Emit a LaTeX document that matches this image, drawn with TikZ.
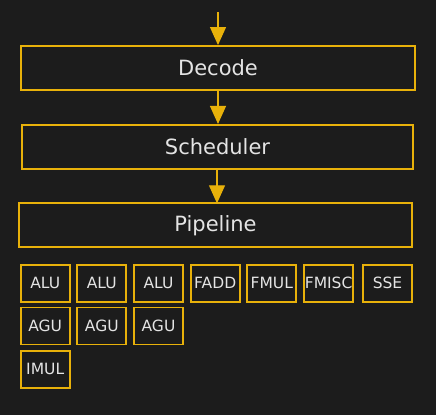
\documentclass[tikz,border=0pt]{standalone}
\usepackage{fontspec}
\setsansfont{DejaVu Sans}
\usetikzlibrary{arrows.meta}
\definecolor{bgdark}{HTML}{1C1C1C}
\definecolor{amber}{HTML}{E8B10A}
\definecolor{pale}{HTML}{E4E4E4}

\begin{document}
\begin{tikzpicture}[x=1pt, y=-1pt, >={Triangle[length=18pt,width=16pt]},
	stage/.style={draw=amber, line width=1.7pt, minimum height=44pt, inner sep=0pt, text=pale, font=\sffamily\fontsize{21}{25}\selectfont},
	unit/.style={draw=amber, line width=1.7pt, minimum width=49pt, minimum height=37pt, inner sep=0pt, text=pale, font=\sffamily\fontsize{15.5}{18}\selectfont},
	flow/.style={->, draw=amber, fill=amber, line width=1.2pt}]
	\fill[bgdark] (0,0) rectangle (436,415);
	\useasboundingbox (0,0) rectangle (436,415);
	\coordinate (in) at (218,12);
	\node[stage, minimum width=394pt] (decode) at (218,67.9) {Decode};
	\node[stage, minimum width=391pt] (sched) at (217.5,146.8) {Scheduler};
	\node[stage, minimum width=393pt] (pipe) at (215.5,225.3) {Pipeline};
	\coordinate (pipetop) at (217,203.3);
	\draw[flow] (in) -- (decode.north);
	\draw[flow] (decode.south) -- (decode.south |- sched.north);
	\draw[flow] (sched.south -| pipetop) -- (pipetop);
	\foreach \name/\txt/\x/\y in {alua/ALU/45.2/283.3, alub/ALU/101.8/283.3, aluc/ALU/158.5/283.3,
		fadd/FADD/215.2/283.3, fmul/FMUL/271.8/283.3, fmisc/FMISC/328.6/283.3, sse/SSE/387.5/283.3,
		agua/AGU/45.2/326, agub/AGU/101.8/326, aguc/AGU/158.5/326, imul/IMUL/45.2/369.2}
		\node[unit] (\name) at (\x,\y) {\txt};
\end{tikzpicture}
\end{document}
